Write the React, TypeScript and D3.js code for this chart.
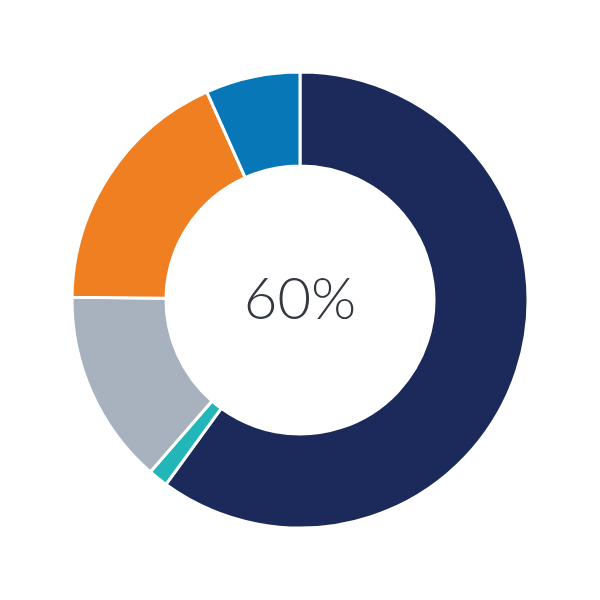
import React from "react";
import * as d3 from "d3";

const categories = ["A", "B", "C", "D", "E"];
const values = [60, 1.4, 13.8, 18.1, 6.7];
const colors = ["#1b2a5a", "#22b6b8", "#a8b2bf", "#f07f22", "#0777b8"];
const centerLabel = "60%";

export default function App() {
  const width = 600;
  const height = 600;
  const cx = 300;
  const cy = 300;
  const outerR = 228;
  const innerR = 134;

  const pie = d3.pie<number>().sort(null).value((d) => d);
  const arcs = pie(values);
  const arc = d3.arc<d3.PieArcDatum<number>>().innerRadius(innerR).outerRadius(outerR);

  return (
    <svg
      width={width}
      height={height}
      style={{ position: "absolute", left: 0, top: 0, background: "#fff" }}
    >
      <g transform={`translate(${cx},${cy})`}>
        {arcs.map((a, i) => (
          <path
            key={categories[i]}
            d={arc(a) || ""}
            fill={colors[i]}
            stroke="#ffffff"
            strokeWidth={3}
            strokeLinejoin="miter"
          />
        ))}
        <text
          x={0}
          y={19}
          textAnchor="middle"
          fontFamily="Lato, 'Open Sans', sans-serif"
          fontWeight={300}
          fontSize={58}
          fill="#343941"
        >
          {centerLabel}
        </text>
      </g>
    </svg>
  );
}
